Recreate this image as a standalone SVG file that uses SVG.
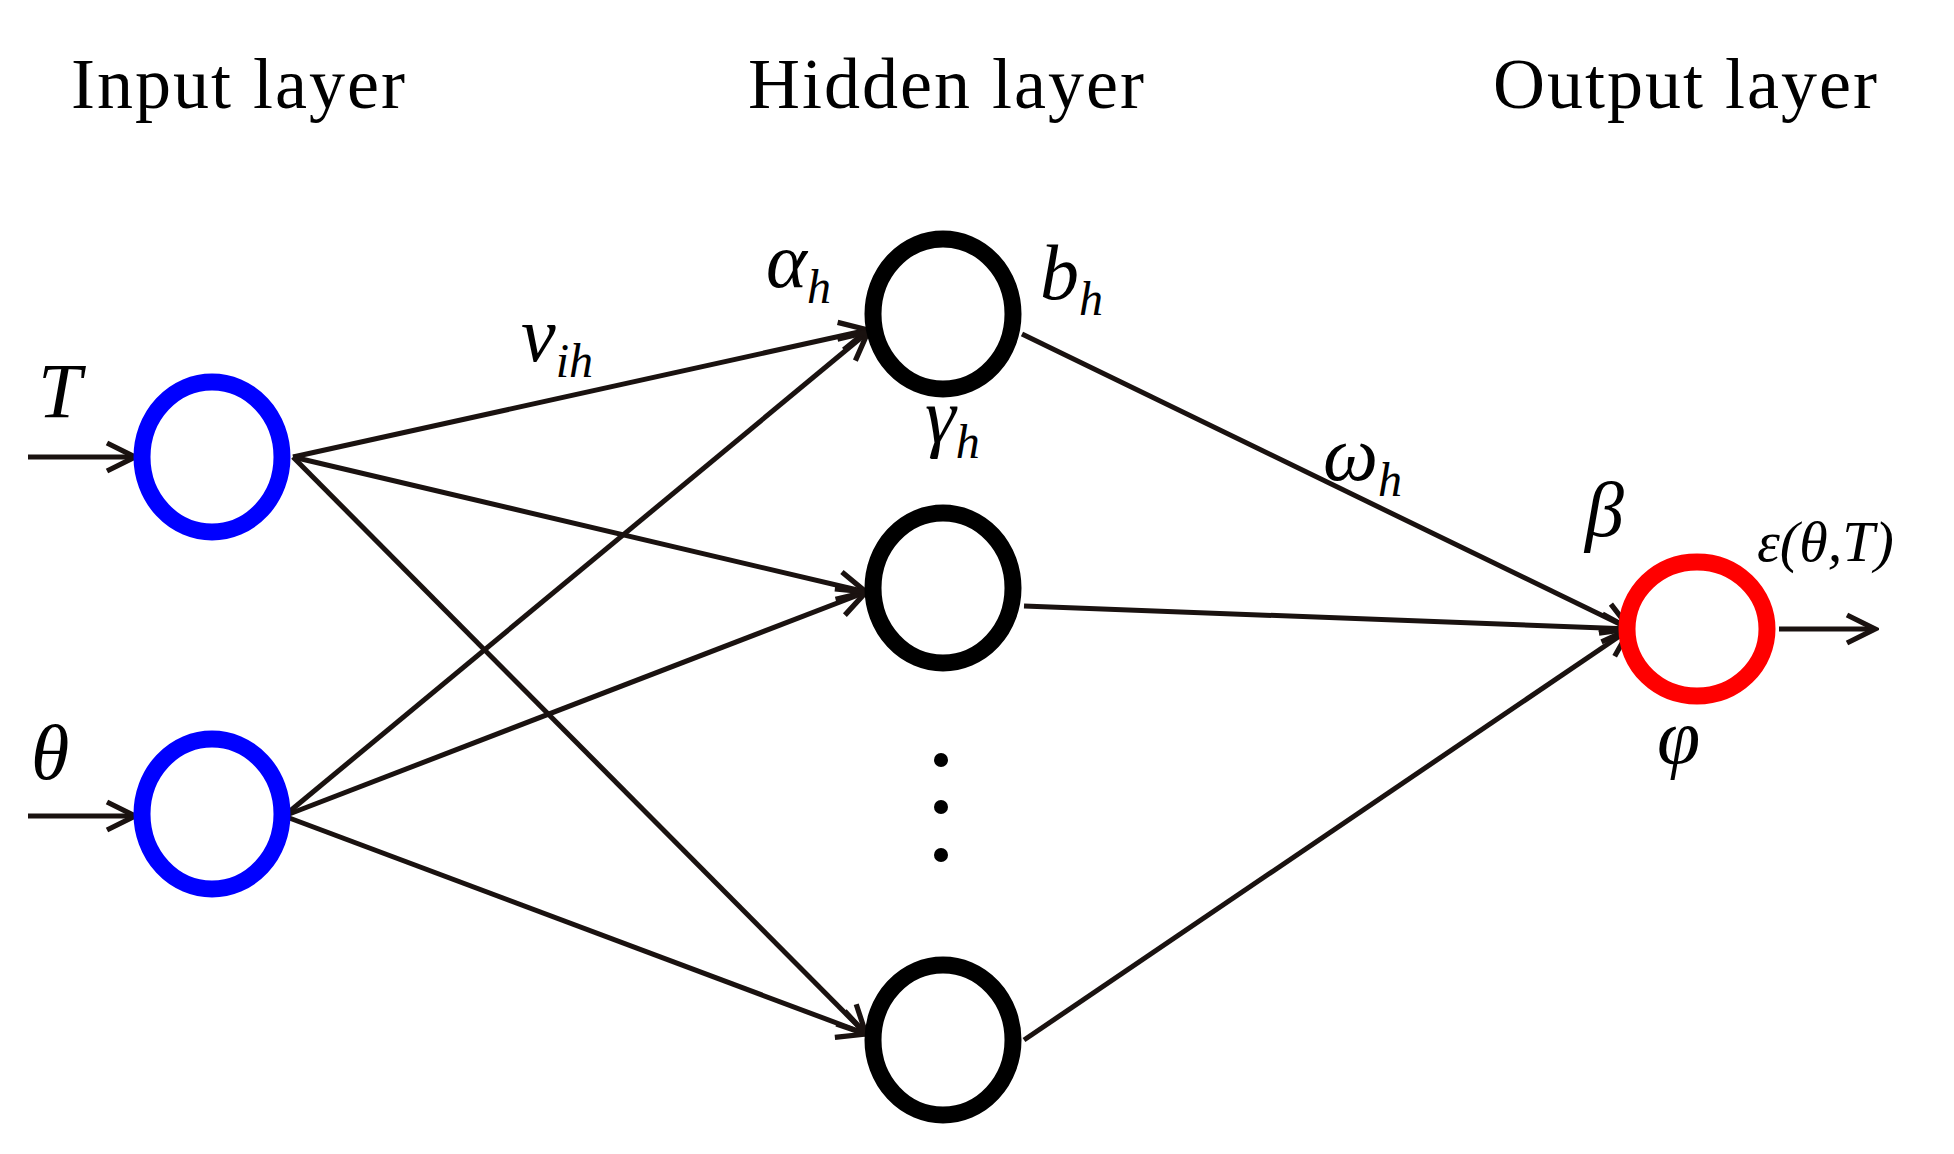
<svg xmlns="http://www.w3.org/2000/svg" width="1954" height="1154" viewBox="0 0 1954 1154">
<style>
.t{font-family:'Liberation Serif','Times New Roman',Times,serif;font-size:72px;fill:#000;letter-spacing:2px}
.m{font-family:'Liberation Serif','Times New Roman',Times,serif;font-style:italic;fill:#000}
.e{stroke:#1a1210;stroke-width:5;fill:none}
</style>
<defs>
<marker id="b" viewBox="0 0 20 20" refX="18" refY="10" markerWidth="7" markerHeight="7" orient="auto"><path d="M2,2 L18,10 L2,18" fill="none" stroke="#1a1210" stroke-width="3"/></marker></defs>
<rect width="1954" height="1154" fill="#fff"/>
<text class="t" x="71" y="108">Input layer</text>
<text class="t" x="748" y="108">Hidden layer</text>
<text class="t" x="1493" y="108">Output layer</text>
<g id="connectors">
<line class="e" x1="28" y1="457" x2="135" y2="457" marker-end="url(#b)"/>
<line class="e" x1="28" y1="816" x2="135" y2="816" marker-end="url(#b)"/>
<line class="e" x1="293" y1="457" x2="868" y2="330" marker-end="url(#b)"/>
<line class="e" x1="293" y1="457" x2="866" y2="592" marker-end="url(#b)"/>
<line class="e" x1="293" y1="457" x2="866" y2="1034" marker-end="url(#b)"/>
<line class="e" x1="284" y1="816" x2="868" y2="332" marker-end="url(#b)"/>
<line class="e" x1="284" y1="816" x2="866" y2="592" marker-end="url(#b)"/>
<line class="e" x1="284" y1="816" x2="866" y2="1034" marker-end="url(#b)"/>
<line class="e" x1="1022" y1="334" x2="1630" y2="629" marker-end="url(#b)"/>
<line class="e" x1="1024" y1="606" x2="1630" y2="629" marker-end="url(#b)"/>
<line class="e" x1="1024" y1="1040" x2="1630" y2="629" marker-end="url(#b)"/>
<line class="e" x1="1779" y1="629" x2="1875" y2="629" marker-end="url(#b)"/>
</g>
<g id="in1"><ellipse cx="212" cy="457" rx="70" ry="75" fill="none" stroke="#0000ff" stroke-width="17"/></g>
<g id="in2"><ellipse cx="212" cy="814" rx="70" ry="75" fill="none" stroke="#0000ff" stroke-width="17"/></g>
<g id="h1"><ellipse cx="943" cy="314" rx="70" ry="75" fill="#fff" stroke="#000" stroke-width="17"/></g>
<g id="h2"><ellipse cx="943" cy="588" rx="70" ry="75" fill="#fff" stroke="#000" stroke-width="17"/></g>
<g id="h3"><ellipse cx="943" cy="1040" rx="70" ry="75" fill="#fff" stroke="#000" stroke-width="17"/></g>
<g id="out"><ellipse cx="1697" cy="629" rx="70" ry="67" fill="#fff" stroke="#ff0000" stroke-width="17"/></g>
<g id="dots" fill="#000"><circle cx="941" cy="760" r="7"/><circle cx="941" cy="807" r="7"/><circle cx="941" cy="855" r="7"/></g>
<g id="labels">
<text class="m" x="38" y="417" font-size="78">T</text>
<text class="m" x="31" y="779" font-size="78">θ</text>
<text class="m" x="521" y="361" font-size="78">v<tspan font-size="48" dy="16">ih</tspan></text>
<text class="m" x="766" y="287" font-size="78">α<tspan font-size="48" dy="16">h</tspan></text>
<text class="m" x="1040" y="299" font-size="78">b<tspan font-size="48" dy="16">h</tspan></text>
<text class="m" x="925" y="442" font-size="78">γ<tspan font-size="48" dy="16">h</tspan></text>
<text class="m" x="1323" y="480" font-size="78">ω<tspan font-size="48" dy="16">h</tspan></text>
<text class="m" x="1585" y="536" font-size="78">β</text>
<text class="m" x="1757" y="561" font-size="58">ε(θ,T)</text>
<text class="m" x="1657" y="763" font-size="78">φ</text>
</g>
</svg>
